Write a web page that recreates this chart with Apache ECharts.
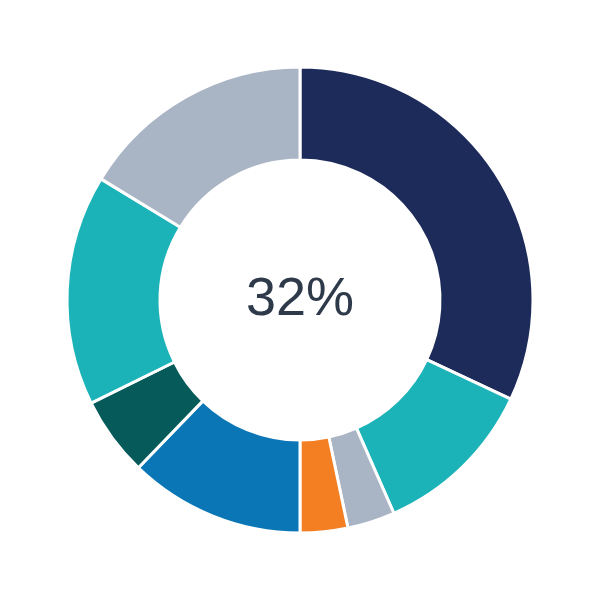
<!DOCTYPE html>
<html>
<head>
<meta charset="utf-8">
<script src="https://cdn.jsdelivr.net/npm/echarts@6/dist/echarts.min.js"></script>
<style>html,body{margin:0;padding:0;background:#fff}#c{width:600px;height:600px}</style>
</head>
<body>
<div id="c"></div>
<script>
const categories = ['A','B','C','D','E','F','G','H'];
const values = [32, 11.4, 3.3, 3.3, 12.2, 5.5, 16, 16.3];
const colors = ['#1c2b5a','#1cb3b8','#a9b4c4','#f37f22','#0a76b6','#065a5a','#1cb3b8','#a9b4c4'];
const centerLabel = '32%';

const chart = echarts.init(document.getElementById('c'));
chart.setOption({
  animation: false,
  title: {
    text: centerLabel, left: 'center', top: 'middle',
    textStyle: { fontFamily: 'Liberation Sans, Arial', fontSize: 54, fontWeight: 'normal', color: '#2e3a4a' }
  },
  series: [{
    type: 'pie',
    center: [300, 300],
    radius: [140, 233],
    startAngle: 90,
    clockwise: true,
    label: { show: false },
    labelLine: { show: false },
    itemStyle: { borderColor: '#ffffff', borderWidth: 3 },
    data: categories.map((c, i) => ({ name: c, value: values[i], itemStyle: { color: colors[i] } }))
  }]
});
</script>
</body>
</html>
